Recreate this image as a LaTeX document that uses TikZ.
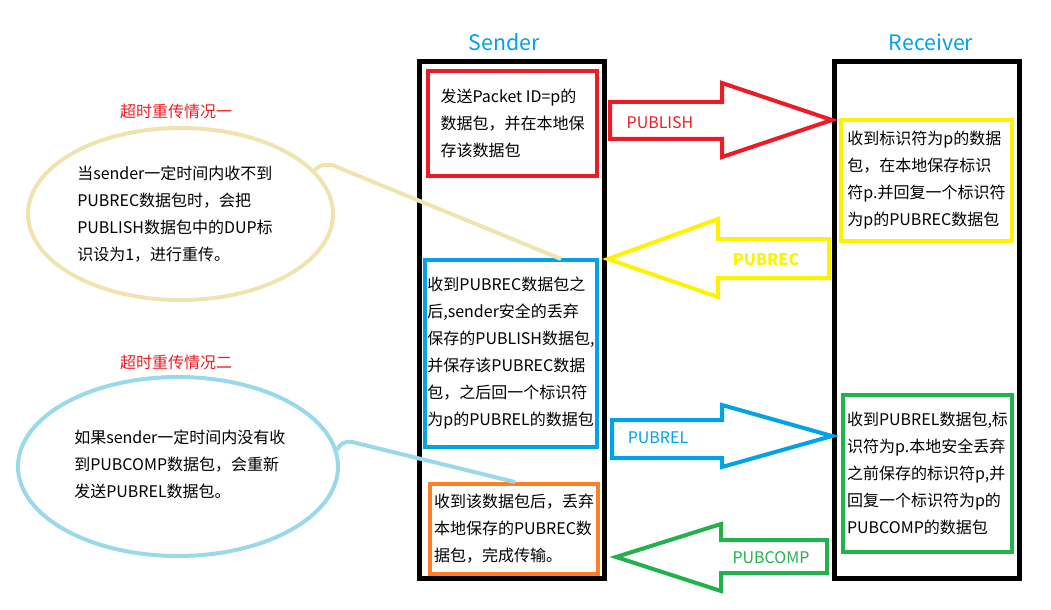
\documentclass[tikz,border=0pt]{standalone}
\usepackage{fontspec}
\setmainfont{Noto Sans CJK SC}
\usetikzlibrary{shapes.geometric}

\definecolor{pred}{HTML}{ED1C24}
\definecolor{pyellow}{HTML}{FFF200}
\definecolor{pblue}{HTML}{00A2E8}
\definecolor{pgreen}{HTML}{22B14C}
\definecolor{porange}{HTML}{FF7F27}
\definecolor{pbeige}{HTML}{EFE4B0}
\definecolor{plight}{HTML}{99D9EA}

\tikzset{
  lane/.style={draw, line width=3.75pt, minimum width=185*0.75pt, minimum height=516*0.75pt},
  msg/.style={draw, line width=3pt, align=left, inner sep=2pt, font=\fontsize{12pt}{20.25pt}\selectfont},
  fat/.style={line width=3pt, line join=miter},
  tag/.style={font=\fontsize{12pt}{14pt}\selectfont},
  bubble/.style={ellipse, line width=3pt},
  note/.style={align=left, inner sep=0pt, anchor=west, font=\fontsize{12pt}{20.25pt}\selectfont},
  title/.style={text=pblue, font=\fontsize{16pt}{18pt}\selectfont}
}

\begin{document}
\begin{tikzpicture}[x=0.75pt, y=-0.75pt]
  \useasboundingbox (0,0) rectangle (1051,610);

  % columns
  \node[title] (sname) at (504,42) {Sender};
  \node[title] (rname) at (931,42) {Receiver};
  \node[lane] (sender) at (511.5,320) {};
  \node[lane] (receiver) at (927,320) {};

  % message boxes
  \node[msg, draw=pred, minimum width=169*0.75pt, minimum height=105*0.75pt] (pub) at (512.5,123.5)
    {发送Packet ID=p的\\数据包，并在本地保\\存该数据包};
  \node[msg, draw=pyellow, minimum width=171*0.75pt, minimum height=121*0.75pt] (rec) at (926.5,180.5)
    {收到标识符为p的数据\\包，在本地保存标识\\符p.并回复一个标识符\\为p的PUBREC数据包};
  \node[msg, draw=pblue, minimum width=172*0.75pt, minimum height=187*0.75pt] (rel) at (511,353.5)
    {收到PUBREC数据包之\\后,sender安全的丢弃\\保存的PUBLISH数据包,\\并保存该PUBREC数据\\包，之后回一个标识符\\为p的PUBREL的数据包};
  \node[msg, draw=pgreen, minimum width=169*0.75pt, minimum height=157*0.75pt] (comp) at (927.5,473.5)
    {收到PUBREL数据包,标\\识符为p.本地安全丢弃\\之前保存的标识符p,并\\回复一个标识符为p的\\PUBCOMP的数据包};
  \node[msg, draw=porange, minimum width=168*0.75pt, minimum height=90*0.75pt] (done) at (514,529)
    {收到该数据包后，丢弃\\本地保存的PUBREC数\\据包，完成传输。};

  % big arrows
  \draw[fat, pred] (610,102) -- (722,102) -- (722,83) -- (832,120) -- (722,157) -- (722,139) -- (610,139) -- cycle;
  \node[tag, text=pred] (lpub) at (660,123) {PUBLISH};
  \draw[fat, pyellow] (829,239) -- (718,239) -- (718,219) -- (608,259) -- (718,297) -- (718,278) -- (829,278) -- cycle;
  \node[tag, text=pyellow, font=\bfseries\fontsize{12pt}{14pt}\selectfont] (lrec) at (766,260) {PUBREC};
  \draw[fat, pblue] (612,420) -- (722,420) -- (722,405) -- (832,436) -- (722,467) -- (722,458) -- (612,458) -- cycle;
  \node[tag, text=pblue] (lrel) at (658,438) {PUBREL};
  \draw[fat, pgreen] (827,540) -- (721,540) -- (721,524) -- (616,557) -- (721,591) -- (721,573) -- (827,573) -- cycle;
  \node[tag, text=pgreen] (lcomp) at (771,558) {PUBCOMP};

  % timeout case one
  \node[tag, text=pred] (case1) at (176,111) {超时重传情况一};
  \node[bubble, draw=pbeige, minimum width=305*0.75pt, minimum height=172*0.75pt] (e1) at (180.5,214) {};
  \node[note] (t1) at (77,214.5) {当sender一定时间内收不到\\PUBREC数据包时，会把\\PUBLISH数据包中的DUP标\\识设为1，进行重传。};
  \coordinate (tipA) at (561,259);
  \draw[pbeige, line width=3pt] (e1.18) .. controls (318,166) and (323,164) .. (332,165) -- (tipA);

  % timeout case two
  \node[tag, text=pred] (case2) at (176,362) {超时重传情况二};
  \node[bubble, draw=plight, minimum width=320*0.75pt, minimum height=179*0.75pt] (e2) at (178,466.5) {};
  \node[note] (t2) at (74,464) {如果sender一定时间内没有收\\到PUBCOMP数据包，会重新\\发送PUBREL数据包。};
  \coordinate (tipB) at (515,482);
  \draw[plight, line width=3pt] (e2.6) .. controls (340,444) and (344,441) .. (352,442) -- (tipB);
\end{tikzpicture}
\end{document}
